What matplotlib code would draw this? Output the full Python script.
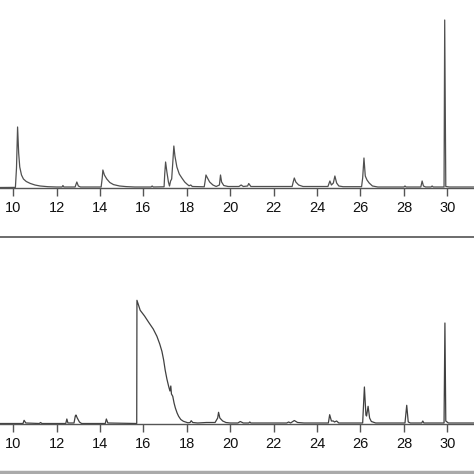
import numpy as np
import matplotlib.pyplot as plt
import matplotlib.ticker as ticker
from matplotlib.lines import Line2D

plt.rcParams['font.family'] = ['Liberation Sans', 'DejaVu Sans']

# retention time (min) and detector signal
top_rt = [9.39, 10.10, 10.15, 10.20, 10.25, 10.30, 10.38, 10.47, 10.6, 10.78, 11.0, 11.24, 11.6, 12.0,
          12.25, 12.29, 12.33, 12.85, 12.93, 13.0, 13.1, 14.05, 14.10, 14.13, 14.2, 14.31, 14.45, 14.62,
          14.9, 15.2, 15.6, 16.35, 16.4, 16.45, 16.95, 16.98, 17.02, 17.08, 17.15, 17.2, 17.25, 17.3,
          17.35, 17.40, 17.45, 17.54, 17.65, 17.77, 17.9, 18.0, 18.1, 18.18, 18.25, 18.8, 18.85, 18.88,
          18.95, 19.05, 19.2, 19.35, 19.5, 19.55, 19.6, 19.7, 19.9, 20.4, 20.5, 20.6, 20.8, 20.85, 20.95,
          22.85, 22.9, 22.95, 23.02, 23.15, 23.35, 24.5, 24.59, 24.66, 24.75, 24.82, 24.9, 25.0, 25.2,
          26.05, 26.1, 26.16, 26.22, 26.3, 26.4, 26.55, 26.8, 28.0, 28.05, 28.1, 28.78, 28.84, 28.9,
          29.0, 29.25, 29.3, 29.35, 29.85, 29.88, 29.93, 30.1, 31.23]
top_sig = [0.5, 0.6, 20, 61, 35, 21, 13, 9, 6.5, 4.6, 3, 2, 1.3, 1,
           1, 2.5, 1, 1, 6, 2, 1, 1, 10, 18, 13, 9, 5.5, 3.4,
           2, 1.4, 1, 1, 2, 1, 1.2, 14, 26, 16, 6, 2, 7, 9,
           25, 42, 32, 21, 14, 10, 6, 4, 2.2, 3, 1.5, 1.2, 8, 13,
           10, 6, 3, 1.5, 3, 13, 6, 2.5, 1.5, 1.5, 3, 1.5, 2, 4.5, 1.5,
           1.5, 6, 10, 6, 3, 1.5, 1.5, 7, 3, 5, 12, 5, 2, 1.3,
           1.3, 10, 30, 12, 8, 5, 2, 1, 1, 2, 1, 1, 7, 2,
           1, 1, 2, 1, 1, 168, 1.5, 1, 1]

bot_rt = [9.39, 10.45, 10.5, 10.58, 11.2, 11.26, 11.32, 12.42, 12.47, 12.52, 12.8, 12.86, 12.89, 12.95,
          13.05, 13.15, 14.24, 14.29, 14.36, 15.69, 15.70, 15.85, 16.05, 16.24, 16.45, 16.62, 16.75,
          16.85, 16.93, 17.0, 17.08, 17.16, 17.22, 17.26, 17.29, 17.35, 17.41, 17.47, 17.55, 17.62,
          17.72, 17.84, 18.05, 18.15, 18.2, 18.27, 18.5, 18.9, 19.3, 19.42, 19.46, 19.52, 19.65, 19.8,
          20.0, 20.35, 20.46, 20.6, 20.85, 20.9, 20.95, 22.6, 22.69, 22.78, 22.95, 23.1, 23.4, 24.52,
          24.58, 24.66, 24.75, 24.8, 24.9, 25.0, 26.1, 26.18, 26.25, 26.28, 26.35, 26.42, 26.5, 26.7,
          28.05, 28.13, 28.2, 28.3, 28.82, 28.87, 28.92, 29.85, 29.89, 29.93, 30.05, 31.23]
bot_sig = [0.5, 0.5, 3.7, 1, 0.5, 1.5, 0.5, 0.5, 5, 1, 1, 8, 9, 6,
           2, 0.5, 0.5, 5, 1, 0.5, 123.7, 113.7, 108, 101.7, 95, 87.7, 80,
           72.7, 64, 54, 45, 37.7, 33, 38, 30, 27.7, 21, 16, 11, 7.7,
           4.5, 2.7, 1.2, 1.5, 3.3, 1.5, 1, 1.5, 1.5, 6, 11.7, 6, 3, 1.5,
           1, 1, 2.5, 1, 1, 2, 1, 1, 2, 1, 3.5, 1.5, 1, 1,
           9.3, 3, 3, 2, 3, 1, 1, 37, 9, 8, 17.7, 6, 2.5, 1,
           1, 18.7, 2, 1, 1, 3, 1, 1, 101, 3, 1, 1]

ticks = np.arange(10, 31, 2)
W = 474


def setup(ax, ytop):
    ax.set_xlim(9.39, 31.23)
    ax.set_ylim(0, ytop)
    for s in ['top', 'left', 'right']:
        ax.spines[s].set_visible(False)
    ax.spines['bottom'].set_color('#555555')
    ax.spines['bottom'].set_linewidth(1.0)
    ax.set_yticks([])
    ax.xaxis.set_major_locator(ticker.FixedLocator(ticks))
    ax.tick_params(axis='x', direction='out', length=6, width=1.0, color='#555555',
                   labelsize=10.5, pad=3, labelcolor='#111111')
    ax.patch.set_alpha(0)


fig = plt.figure(figsize=(W / 100, W / 100), dpi=100)

# top chromatogram: baseline at px 188, axes 170 px tall
ax1 = fig.add_axes([0, (W - 188) / W, 1, 170 / W])
ax1.plot(top_rt, top_sig, color='#505050', lw=0.9)
setup(ax1, 170)

# bottom chromatogram: baseline at px 424, axes 130 px tall
ax2 = fig.add_axes([0, (W - 424) / W, 1, 130 / W])
ax2.plot(bot_rt, bot_sig, color='#404040', lw=0.9)
setup(ax2, 130)

# frame separators
fig.add_artist(Line2D([0, 1], [(W - 237) / W] * 2, color='#444444', lw=1.1))
fig.add_artist(Line2D([0, 1], [(W - 472) / W] * 2, color='#aaaaaa', lw=2.5))

fig.savefig('out.png', dpi=100)
